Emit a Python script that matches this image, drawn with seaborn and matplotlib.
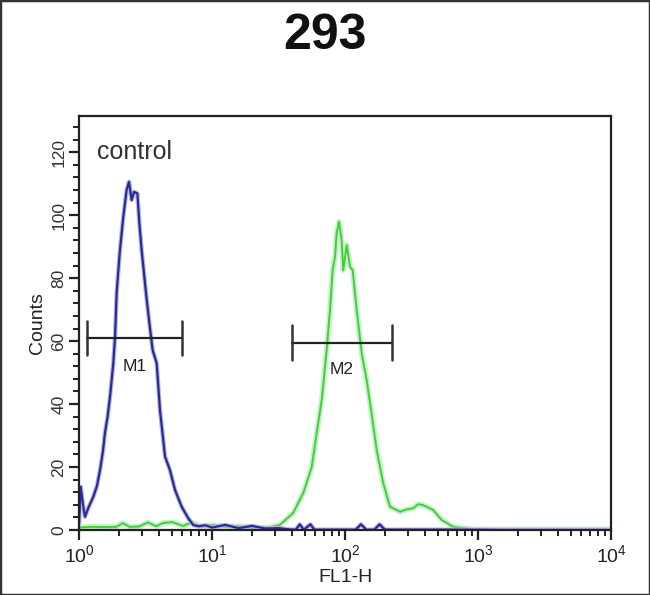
import numpy as np
import pandas as pd
import matplotlib
matplotlib.use("Agg")
import matplotlib.pyplot as plt
import matplotlib.patheffects as pe
from matplotlib.ticker import MultipleLocator, FixedLocator, LogLocator, NullFormatter
from matplotlib.patches import Rectangle
import seaborn as sns

# ---- data (FL1-H decades, counts) ----
control_log = [0.0, 0.013, 0.03, 0.045, 0.07, 0.108, 0.135, 0.158, 0.18, 0.195, 0.215, 0.233, 0.258,
               0.271, 0.283, 0.295, 0.308, 0.333, 0.358, 0.376, 0.396, 0.414, 0.439, 0.454, 0.471,
               0.504, 0.529, 0.554, 0.584, 0.609, 0.647, 0.684, 0.722, 0.772, 0.822, 0.859, 0.9,
               0.95, 1.0, 1.1, 1.2, 1.3, 1.4, 1.5, 1.58, 1.63, 1.66, 1.69, 1.74, 1.77, 1.9,
               2.08, 2.12, 2.16, 2.22, 2.26, 2.3, 2.5, 2.7, 2.9, 3.2, 3.6, 4.0]
control_counts = [2, 13.7, 8, 4.2, 7, 10.6, 14, 19, 25, 30.8, 36, 42.3, 53,
                  61.4, 75.2, 82, 88.9, 99.5, 108, 110.6, 104.8, 107.4, 106.9, 97.4, 88.9,
                  75.2, 65.7, 57.1, 53, 38, 23.3, 19, 12.7, 7.4, 3.7, 1.6, 1.2,
                  1.5, 0.8, 1.6, 0.6, 1.3, 0.5, 0.6, 0.2, 0.1, 1.8, 0.1, 1.8, 0.1, 0.1,
                  0.1, 1.8, 0.1, 0.1, 1.8, 0.1, 0.1, 0.1, 0.1, 0.0, 0.0, 0.0]

sample_log = [0.0, 0.1, 0.2, 0.28, 0.33, 0.38, 0.45, 0.52, 0.58, 0.63, 0.7, 0.78, 0.85, 0.92,
              1.0, 1.1, 1.2, 1.3, 1.36, 1.45, 1.51, 1.61, 1.686, 1.75, 1.787, 1.825, 1.862,
              1.887, 1.907, 1.925, 1.937, 1.955, 1.975, 1.987, 2.013, 2.038, 2.058, 2.088,
              2.126, 2.163, 2.2, 2.238, 2.288, 2.338, 2.414, 2.46, 2.513, 2.55, 2.589, 2.664,
              2.727, 2.814, 2.965, 3.2, 3.6, 4.0]
sample_counts = [0.8, 1.0, 0.9, 1.0, 2.2, 1.0, 1.1, 2.4, 1.2, 2.2, 2.5, 1.3, 2.4, 1.0,
                 1.6, 1.0, 1.2, 0.8, 0.5, 1.0, 1.6, 5.4, 11.7, 20, 30.7, 41.3, 57.1,
                 69.8, 82.5, 86.8, 94.2, 97.9, 92, 82.5, 90.5, 83.6, 82.5, 69.8,
                 56.1, 47.6, 37, 25.4, 14.8, 7.4, 5.8, 6.5, 6.9, 8.2, 7.9, 6.3,
                 3.2, 1.0, 0.2, 0.2, 0.2, 0.2]

markers = ["M1", "M2"]
marker_lo = [1.15, 40]
marker_hi = [5.95, 225]
marker_y = [61, 59.5]
marker_label_y = [52, 51]

title = "293"
xlabel = "FL1-H"
ylabel = "Counts"
annot = "control"

df_c = pd.DataFrame({"fl": np.power(10.0, control_log), "count": control_counts})
df_s = pd.DataFrame({"fl": np.power(10.0, sample_log), "count": sample_counts})

sns.set_style("ticks")
plt.rcParams["font.family"] = ["Liberation Sans", "DejaVu Sans"]

fig = plt.figure(figsize=(6.5, 5.95), dpi=100)
ax = fig.add_axes([79/650, 1-530/595, (611-79)/650, (530-116)/595])

blue = "#2a2a96"
green = "#3fcf3f"
sns.lineplot(data=df_s, x="fl", y="count", ax=ax, color=green, lw=1.4, estimator=None, sort=False,
             path_effects=[pe.Stroke(linewidth=4, foreground="#c8f0c8"), pe.Normal()])
sns.lineplot(data=df_c, x="fl", y="count", ax=ax, color=blue, lw=1.6, estimator=None, sort=False,
             path_effects=[pe.Stroke(linewidth=3.2, foreground="#b8b8e0"), pe.Normal()])

ax.set_xscale("log")
ax.set_xlim(1, 1e4)
ax.set_ylim(0, 131.5)

for name, lo, hi, yv, ly in zip(markers, marker_lo, marker_hi, marker_y, marker_label_y):
    ax.plot([lo, hi], [yv, yv], color="#222222", lw=1.6)
    for xv in (lo, hi):
        ax.plot([xv, xv], [yv - 5.5, yv + 5.5], color="#333333", lw=1.8)
    ax.text(np.sqrt(lo * hi), ly, name, ha="center", va="center", fontsize=12.5, color="#222222")

ax.text(1.36, 120, annot, ha="left", va="center", fontsize=18, color="#333333")

ax.xaxis.set_major_locator(FixedLocator([1, 10, 100, 1000, 10000]))
ax.set_xticklabels([r"$\mathregular{10^{%d}}$" % i for i in range(5)], fontsize=14, color="#222222")
ax.xaxis.set_minor_locator(LogLocator(base=10, subs=np.arange(2, 10)))
ax.xaxis.set_minor_formatter(NullFormatter())
ax.yaxis.set_major_locator(FixedLocator([0, 20, 40, 60, 80, 100, 120]))
ax.yaxis.set_minor_locator(MultipleLocator(4))
for lab in ax.get_yticklabels():
    lab.set_rotation(90)
    lab.set_va("center")
    lab.set_fontsize(12.5)
    lab.set_color("#333333")

ax.tick_params(axis="both", which="major", direction="out", length=7, width=1.6, color="#222222")
ax.tick_params(axis="both", which="minor", direction="out", length=4, width=1.4, color="#222222")
ax.tick_params(axis="y", pad=2)
ax.tick_params(axis="x", pad=3)
for s in ax.spines.values():
    s.set_visible(True)
    s.set_linewidth(1.6)
    s.set_color("#222222")

ax.set_xlabel(xlabel, fontsize=14, color="#222222", labelpad=2)
ax.set_ylabel(ylabel, fontsize=14, color="#222222", labelpad=4)

fig.text(0.5, 1 - 36/595, title, ha="center", va="center", fontsize=36, fontweight="bold", color="#111111")

fig.patches.append(Rectangle((0, 0), 1, 1, transform=fig.transFigure, fill=False,
                             edgecolor="#333333", lw=2.5))

fig.savefig("out.png", dpi=100)
